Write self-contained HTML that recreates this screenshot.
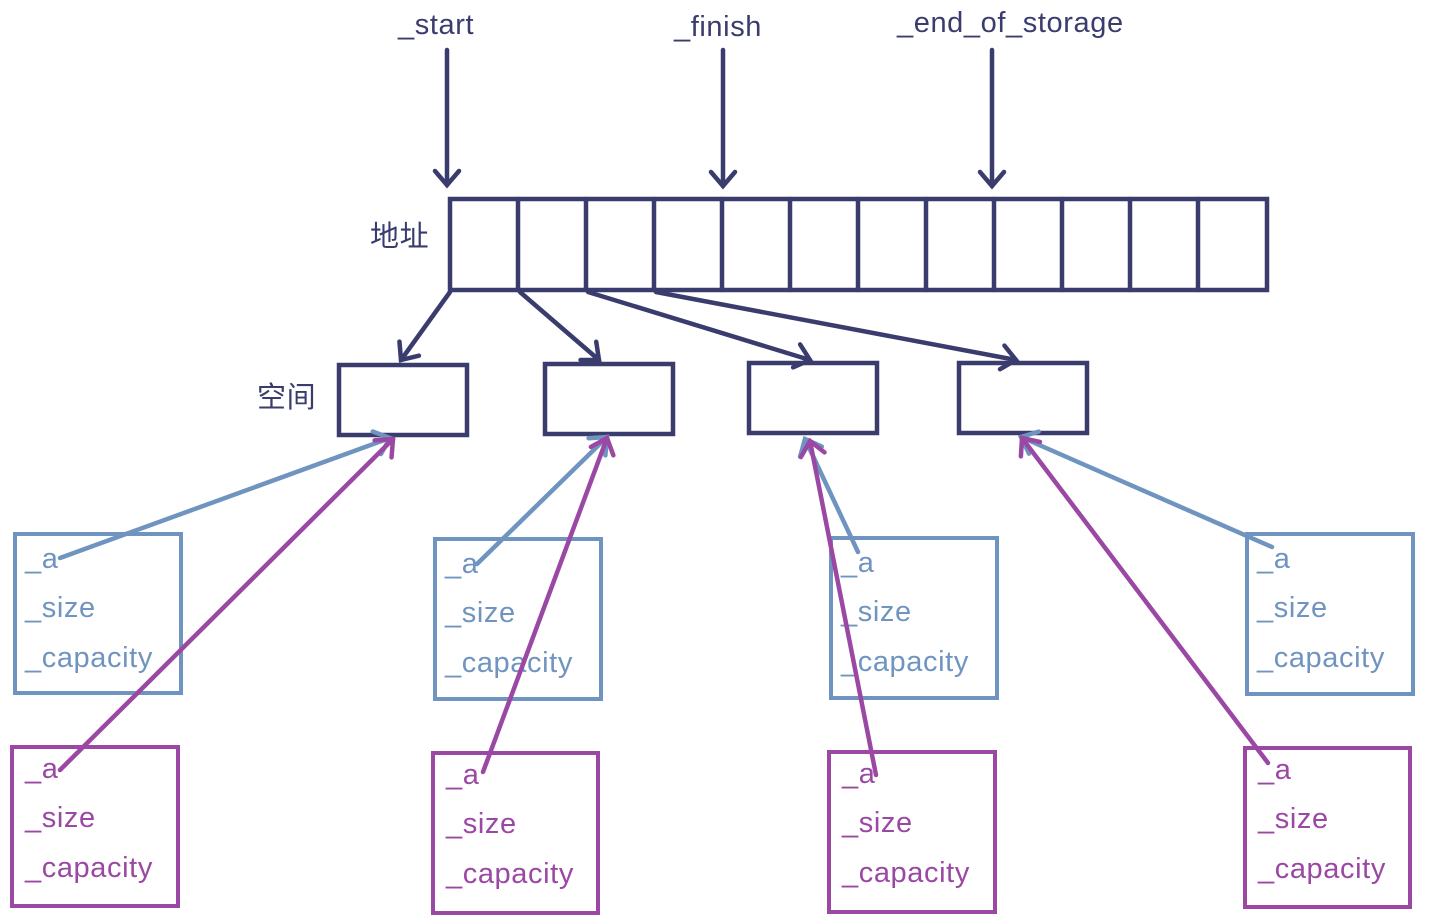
<!DOCTYPE html>
<html><head><meta charset="utf-8"><style>
html,body{margin:0;padding:0;background:#fff;}
svg{display:block}
text{font-family:"Liberation Sans","Noto Sans CJK SC",sans-serif;letter-spacing:0.6px;}
</style></head><body>
<svg width="1454" height="922" viewBox="0 0 1454 922" xmlns="http://www.w3.org/2000/svg">
<defs>
<marker id="mn" viewBox="-18 -18 36 36" markerWidth="36" markerHeight="36" refX="0" refY="0" orient="auto" markerUnits="userSpaceOnUse">
<path d="M-14,-12 L0,0 L-14,12" fill="none" stroke="#3a3c6e" stroke-width="4.5" stroke-linecap="round"/></marker>
<marker id="mb" viewBox="-18 -18 36 36" markerWidth="36" markerHeight="36" refX="0" refY="0" orient="auto" markerUnits="userSpaceOnUse">
<path d="M-14,-12 L0,0 L-14,12" fill="none" stroke="#7094c0" stroke-width="4.5" stroke-linecap="round"/></marker>
<marker id="mp" viewBox="-18 -18 36 36" markerWidth="36" markerHeight="36" refX="0" refY="0" orient="auto" markerUnits="userSpaceOnUse">
<path d="M-14,-12 L0,0 L-14,12" fill="none" stroke="#9b48a4" stroke-width="4.5" stroke-linecap="round"/></marker>
</defs>

<g fill="#3a3c6e" font-size="29">
<text x="398" y="34">_start</text>
<text x="674" y="36">_finish</text>
<text x="897" y="32">_end_of_storage</text>
<text x="370" y="246">地址</text>
<text x="257" y="407">空间</text>
</g>

<g stroke="#3a3c6e" stroke-width="4.5" fill="none" stroke-linecap="round">
<line x1="447" y1="50" x2="447" y2="185" marker-end="url(#mn)"/>
<line x1="723" y1="50" x2="723" y2="186" marker-end="url(#mn)"/>
<line x1="992" y1="50" x2="992" y2="186" marker-end="url(#mn)"/>
<rect x="450" y="199" width="817" height="91"/>
<line x1="518" y1="199" x2="518" y2="290"/><line x1="586" y1="199" x2="586" y2="290"/>
<line x1="654" y1="199" x2="654" y2="290"/><line x1="722" y1="199" x2="722" y2="290"/>
<line x1="790" y1="199" x2="790" y2="290"/><line x1="858" y1="199" x2="858" y2="290"/>
<line x1="926" y1="199" x2="926" y2="290"/><line x1="994" y1="199" x2="994" y2="290"/>
<line x1="1062" y1="199" x2="1062" y2="290"/><line x1="1130" y1="199" x2="1130" y2="290"/>
<line x1="1198" y1="199" x2="1198" y2="290"/>
<line x1="450" y1="292" x2="401" y2="360" marker-end="url(#mn)"/>
<line x1="520" y1="292" x2="599" y2="360" marker-end="url(#mn)"/>
<line x1="588" y1="292" x2="810" y2="360" marker-end="url(#mn)"/>
<line x1="656" y1="292" x2="1016" y2="360" marker-end="url(#mn)"/>
<rect x="339" y="365" width="128" height="70"/>
<rect x="545" y="364" width="128" height="70"/>
<rect x="749" y="363" width="128" height="70"/>
<rect x="959" y="363" width="128" height="70"/>
</g>

<g stroke="#7094c0" stroke-width="4" fill="none">
<rect x="15" y="534" width="166" height="159"/>
<rect x="435" y="539" width="166" height="160"/>
<rect x="831" y="538" width="166" height="160"/>
<rect x="1247" y="534" width="166" height="160"/>
</g>
<g fill="#7094c0" font-size="29">
<text x="25" y="568">_a</text><text x="25" y="617">_size</text><text x="25" y="667">_capacity</text>
<text x="445" y="573">_a</text><text x="445" y="622">_size</text><text x="445" y="672">_capacity</text>
<text x="841" y="572">_a</text><text x="841" y="621">_size</text><text x="841" y="671">_capacity</text>
<text x="1257" y="568">_a</text><text x="1257" y="617">_size</text><text x="1257" y="667">_capacity</text>
</g>

<g stroke="#9b48a4" stroke-width="4" fill="none">
<rect x="12" y="747" width="166" height="159"/>
<rect x="433" y="753" width="165" height="160"/>
<rect x="829" y="752" width="166" height="160"/>
<rect x="1245" y="748" width="165" height="159"/>
</g>
<g fill="#9b48a4" font-size="29">
<text x="25" y="778">_a</text><text x="25" y="827">_size</text><text x="25" y="877">_capacity</text>
<text x="446" y="784">_a</text><text x="446" y="833">_size</text><text x="446" y="883">_capacity</text>
<text x="842" y="783">_a</text><text x="842" y="832">_size</text><text x="842" y="882">_capacity</text>
<text x="1258" y="779">_a</text><text x="1258" y="828">_size</text><text x="1258" y="878">_capacity</text>
</g>

<g stroke="#7094c0" stroke-width="4.5" fill="none" stroke-linecap="round">
<line x1="60" y1="558" x2="390" y2="438" marker-end="url(#mb)"/>
<line x1="477" y1="564" x2="607" y2="437" marker-end="url(#mb)"/>
<line x1="858" y1="552" x2="805" y2="439" marker-end="url(#mb)"/>
<line x1="1272" y1="547" x2="1021" y2="437" marker-end="url(#mb)"/>
</g>
<g stroke="#9b48a4" stroke-width="4.5" fill="none" stroke-linecap="round">
<line x1="60" y1="770" x2="393" y2="439" marker-end="url(#mp)"/>
<line x1="483" y1="772" x2="607" y2="438" marker-end="url(#mp)"/>
<line x1="876" y1="775" x2="810" y2="441" marker-end="url(#mp)"/>
<line x1="1268" y1="763" x2="1022" y2="438" marker-end="url(#mp)"/>
</g>
</svg>
</body></html>
